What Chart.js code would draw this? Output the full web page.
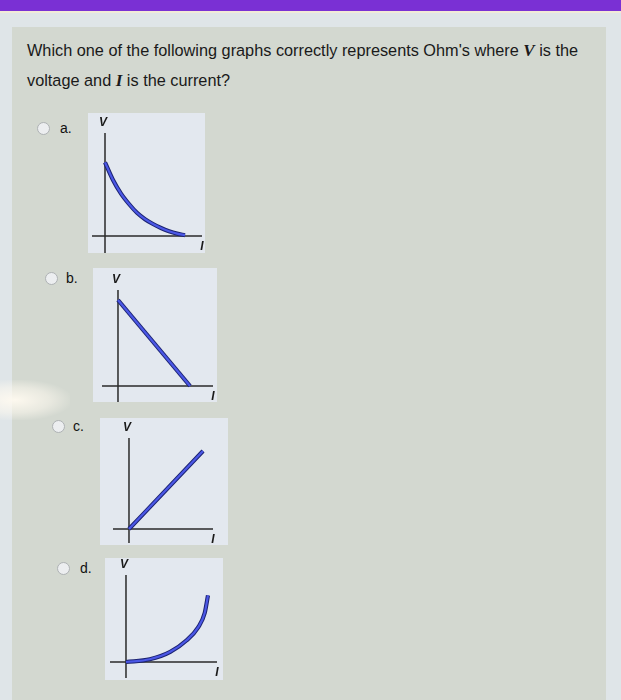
<!DOCTYPE html>
<html>
<head>
<meta charset="utf-8">
<script src="https://cdn.jsdelivr.net/npm/chart.js@4.4.1/dist/chart.umd.min.js"></script>
<style>
    html, body { margin: 0; padding: 0; }
    body {
        width: 621px; height: 700px; overflow: hidden; position: relative;
        background: #dfe5e8;
        font-family: "Liberation Sans", Arial, sans-serif;
    }
    #topBar { position: absolute; left: 0; top: 0; width: 621px; height: 11px; background: #7a30d4; border-bottom: 2px solid #f1ead8; }
    #card { position: absolute; left: 12px; top: 27px; width: 594px; height: 680px; background: #d3d8d0; }
    #glare { position: absolute; left: -40px; top: 380px; width: 110px; height: 40px;
        background: radial-gradient(ellipse at center, rgba(255,250,240,0.95) 0%, rgba(255,250,240,0.5) 45%, rgba(255,250,240,0) 75%); }
    .question { position: absolute; left: 27px; font-size: 16.3px; color: #1a1a1a; white-space: nowrap; }
    .question i { font-family: "Liberation Serif", serif; font-weight: bold; font-size: 17px; }
    .radio { position: absolute; width: 11px; height: 11px; border-radius: 50%; background: #eceef0; border: 1px solid #aeb2b4; }
    .optLabel { position: absolute; font-size: 14px; color: #111; }
    canvas.graph { position: absolute; background: #e3e8ef; }
</style>
</head>
<body>
<div id="topBar"></div>
<div id="card"></div>
<div id="glare"></div>
<div class="question" style="top:41px;">Which one of the following graphs correctly represents Ohm's where <i>V</i> is the</div>
<div class="question" style="top:71px;">voltage and <i>I</i> is the current?</div>
<div id="options"></div>
<script>
// option labels
const optionLabels = ['a.', 'b.', 'c.', 'd.'];

// a. V falls off like a decay curve
const currentA = [0, 0.1, 0.2, 0.3, 0.4, 0.5, 0.6, 0.7, 0.8, 0.9, 1.0];
const voltageA = [0.92, 0.70, 0.53, 0.40, 0.29, 0.21, 0.15, 0.10, 0.06, 0.03, 0.01];

// b. falling straight line
const currentB = [0, 1];
const voltageB = [1, 0];

// c. rising straight line through origin
const currentC = [0, 1];
const voltageC = [0, 1];

// d. rising curve
const currentD = [0, 0.29, 0.54, 0.74, 0.88, 0.96, 1.0];
const voltageD = [0, 0.04, 0.15, 0.32, 0.51, 0.72, 0.98];

const seriesList = [
    { current: currentA, voltage: voltageA, curved: true },
    { current: currentB, voltage: voltageB, curved: false },
    { current: currentC, voltage: voltageC, curved: false },
    { current: currentD, voltage: voltageD, curved: true }
];

// where each small graph sits in the photo
const layouts = [
    { left: 88,  top: 113, w: 117, h: 140, pad: { left: 4,  right: 3,  top: 20, bottom: 0 }, x: [-0.1625, 1.2125], y: [-0.2125, 1.2875],
      radio: [37, 122], label: [60, 120] },
    { left: 93,  top: 268, w: 124, h: 134, pad: { left: 9,  right: 4,  top: 22, bottom: 0 }, x: [-0.222, 1.319], y: [-0.186, 1.116],
      radio: [45, 272], label: [66, 270] },
    { left: 100, top: 418, w: 128, h: 127, pad: { left: 13, right: 15, top: 20, bottom: 2 }, x: [-0.216, 1.135], y: [-0.179, 1.167],
      radio: [52, 420], label: [73, 418] },
    { left: 105, top: 558, w: 118, h: 122, pad: { left: 5,  right: 6,  top: 17, bottom: 2 }, x: [-0.195, 1.11], y: [-0.235, 1.279],
      radio: [57, 562], label: [80, 560] }
];

// draws the two crossing axes at zero plus V / I names
const axesPlugin = {
    id: 'crossAxes',
    beforeDatasetsDraw(chart) {
        const ctx = chart.ctx;
        const area = chart.chartArea;
        const x0 = chart.scales.x.getPixelForValue(0);
        const y0 = chart.scales.y.getPixelForValue(0);
        ctx.save();
        ctx.strokeStyle = '#2b2b2b';
        ctx.lineWidth = 1.5;
        ctx.beginPath();
        ctx.moveTo(x0, area.top);
        ctx.lineTo(x0, area.bottom);
        ctx.moveTo(area.left, y0);
        ctx.lineTo(area.right, y0);
        ctx.stroke();
        ctx.fillStyle = '#1a1a1a';
        ctx.font = 'italic bold 12px "Liberation Sans", sans-serif';
        ctx.textAlign = 'center';
        ctx.textBaseline = 'middle';
        ctx.fillText('V', x0 - 2, area.top - 10);
        ctx.fillText('I', area.right, y0 + 11);
        ctx.restore();
    }
};

function drawOption(index) {
    const series = seriesList[index];
    const lay = layouts[index];
    const container = document.getElementById('options');

    let radio = document.createElement('div');
    radio.className = 'radio';
    radio.style.left = lay.radio[0] + 'px';
    radio.style.top = lay.radio[1] + 'px';
    container.appendChild(radio);

    let lbl = document.createElement('div');
    lbl.className = 'optLabel';
    lbl.textContent = optionLabels[index];
    lbl.style.left = lay.label[0] + 'px';
    lbl.style.top = lay.label[1] + 'px';
    container.appendChild(lbl);

    let canvas = document.createElement('canvas');
    canvas.className = 'graph';
    canvas.width = lay.w;
    canvas.height = lay.h;
    canvas.style.left = lay.left + 'px';
    canvas.style.top = lay.top + 'px';
    canvas.style.width = lay.w + 'px';
    canvas.style.height = lay.h + 'px';
    container.appendChild(canvas);

    let points = series.current.map((c, i) => ({ x: c, y: series.voltage[i] }));
    let tension = series.curved ? 0.4 : 0;

    new Chart(canvas, {
        type: 'scatter',
        data: {
            datasets: [
                // bright core on top, dark rim below
                { data: points, showLine: true, borderColor: '#4b57e6', borderWidth: 2.2, pointRadius: 0, tension: tension, cubicInterpolationMode: 'monotone', order: 0 },
                { data: points, showLine: true, borderColor: '#1c2372', borderWidth: 4.2, pointRadius: 0, tension: tension, cubicInterpolationMode: 'monotone', order: 1 }
            ]
        },
        options: {
            responsive: false,
            animation: false,
            layout: { padding: lay.pad },
            plugins: { legend: { display: false }, tooltip: { enabled: false } },
            scales: {
                x: { type: 'linear', display: false, min: lay.x[0], max: lay.x[1] },
                y: { type: 'linear', display: false, min: lay.y[0], max: lay.y[1] }
            }
        },
        plugins: [axesPlugin]
    });
}

optionLabels.forEach((_, i) => drawOption(i));
</script>
</body>
</html>
